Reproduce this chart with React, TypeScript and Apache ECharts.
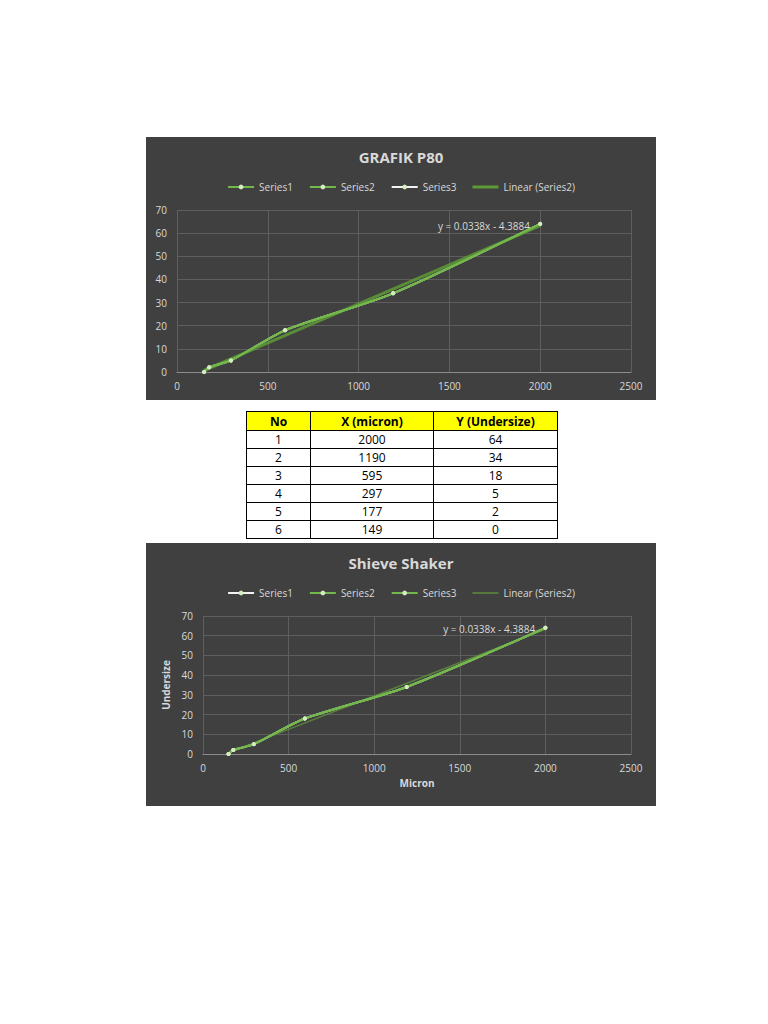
import React, { useEffect, useRef } from 'react';
import * as echarts from 'echarts';

const rowNo = [1, 2, 3, 4, 5, 6];
const micron = [2000, 1190, 595, 297, 177, 149];
const undersize = [64, 34, 18, 5, 2, 0];
const seriesNames = ['Series1', 'Series2', 'Series3'];
const trendName = 'Linear (Series2)';
const trendSlope = 0.0338;
const trendIntercept = -4.3884;
const trendLabel = 'y = 0.0338x - 4.3884';
const xTicks = { min: 0, max: 2500, interval: 500 };
const yTicks = { min: 0, max: 70, interval: 10 };

const FONT = '"Open Sans", "Noto Sans", sans-serif';
const BG = '#404040';
const GREEN = '#72b84a';
const WHITE = '#f2f2f2';
const TEXT = '#d9d9d9';

interface ChartProps {
  title: string;
  seriesColors: string[];
  trendColor: string;
  trendWidth: number;
  grid: { left: number; right: number; top: number; bottom: number };
  xName?: string;
  yName?: string;
}

function buildOption(p: ChartProps): echarts.EChartsOption {
  const points = micron.map((x, i) => [x, undersize[i]]);
  const xs = [Math.min(...micron), Math.max(...micron)];
  const trend = xs.map(x => [x, trendSlope * x + trendIntercept]);

  const series: any[] = seriesNames.map((name, i) => ({
    name,
    type: 'line',
    data: points,
    smooth: 0.25,
    symbol: 'circle',
    symbolSize: 4,
    showSymbol: true,
    lineStyle: { color: p.seriesColors[i], width: 2 },
    itemStyle: { color: '#d4ecc0', borderWidth: 0 },
    // green drawn over white, like the picture
    z: p.seriesColors[i] === WHITE ? 2 : 4,
    silent: true,
  }));

  series.push({
    name: trendName,
    type: 'line',
    data: trend.map((d, i) =>
      i === trend.length - 1
        ? {
            value: d,
            label: {
              show: true,
              position: 'left',
              distance: 10,
              formatter: trendLabel,
              color: TEXT,
              fontSize: 10,
              fontFamily: FONT,
            },
          }
        : d,
    ),
    symbol: 'circle',
    symbolSize: 0.5,
    showSymbol: true,
    lineStyle: { color: p.trendColor, width: p.trendWidth, opacity: 0.85 },
    itemStyle: { color: p.trendColor },
    z: 3,
    silent: true,
  });

  return {
    animation: false,
    backgroundColor: BG,
    textStyle: { fontFamily: FONT },
    title: {
      text: p.title,
      left: 'center',
      top: 7,
      textStyle: { color: TEXT, fontSize: 15, fontWeight: 'bold', fontFamily: FONT },
    },
    legend: {
      top: 40,
      left: 'center',
      itemWidth: 26,
      itemHeight: 6,
      itemGap: 16,
      textStyle: { color: TEXT, fontSize: 10, fontFamily: FONT },
      data: [
        ...seriesNames,
        {
          name: trendName,
          icon: 'path://M0,0H26V' + Math.max(1, p.trendWidth) + 'H0Z',
          itemStyle: { color: p.trendColor },
        },
      ],
    },
    grid: { ...p.grid, containLabel: false },
    xAxis: {
      type: 'value',
      ...xTicks,
      name: p.xName,
      nameLocation: 'middle',
      nameGap: 23,
      nameTextStyle: { color: TEXT, fontSize: 10, fontWeight: 'bold', fontFamily: FONT },
      axisLine: { show: true, lineStyle: { color: '#8c8c8c' } },
      axisTick: { show: false },
      axisLabel: { color: TEXT, fontSize: 10, margin: 9, formatter: (v: number) => String(v) },
      splitLine: { show: true, lineStyle: { color: '#5e5e5e' } },
    },
    yAxis: {
      type: 'value',
      ...yTicks,
      name: p.yName,
      nameLocation: 'middle',
      nameGap: 24,
      nameTextStyle: { color: TEXT, fontSize: 10, fontWeight: 'bold', fontFamily: FONT },
      axisLine: { show: false },
      axisTick: { show: false },
      axisLabel: { color: TEXT, fontSize: 10, margin: 10 },
      splitLine: { show: true, lineStyle: { color: '#5e5e5e' } },
    },
    series,
  };
}

function Chart(props: ChartProps & { left: number; top: number }) {
  const ref = useRef<HTMLDivElement | null>(null);

  useEffect(() => {
    if (!ref.current) return undefined;
    const chart = echarts.init(ref.current, undefined, { renderer: 'svg' });
    chart.setOption(buildOption(props));
    return () => {
      chart.dispose();
    };
  }, []);

  return (
    <div
      ref={ref}
      style={{ position: 'absolute', left: props.left, top: props.top, width: 510, height: 263 }}
    />
  );
}

const cell: React.CSSProperties = {
  border: '1px solid #000',
  textAlign: 'center',
  height: 17,
  padding: 0,
  fontSize: 12,
  lineHeight: '17px',
};

export default function App() {
  return (
    <div
      style={{
        position: 'absolute',
        left: 0,
        top: 0,
        width: 768,
        height: 1024,
        background: '#fff',
        fontFamily: FONT,
      }}
    >
      <Chart
        left={146}
        top={137}
        title="GRAFIK P80"
        seriesColors={[GREEN, GREEN, WHITE]}
        trendColor="#5e9a36"
        trendWidth={3}
        grid={{ left: 31, right: 25, top: 73, bottom: 28 }}
      />
      <table
        style={{
          position: 'absolute',
          left: 246,
          top: 411,
          width: 312,
          borderCollapse: 'collapse',
          color: '#000',
        }}
      >
        <thead>
          <tr style={{ background: '#ffff00' }}>
            <th style={{ ...cell, width: 63, height: 18 }}>No</th>
            <th style={{ ...cell, width: 122, height: 18 }}>X (micron)</th>
            <th style={{ ...cell, width: 123, height: 18 }}>Y (Undersize)</th>
          </tr>
        </thead>
        <tbody>
          {rowNo.map((n, i) => (
            <tr key={n}>
              <td style={cell}>{n}</td>
              <td style={cell}>{micron[i]}</td>
              <td style={cell}>{undersize[i]}</td>
            </tr>
          ))}
        </tbody>
      </table>
      <Chart
        left={146}
        top={543}
        title="Shieve Shaker"
        seriesColors={[WHITE, GREEN, GREEN]}
        trendColor="#5e8a3e"
        trendWidth={1.5}
        grid={{ left: 57, right: 25, top: 73, bottom: 52 }}
        xName="Micron"
        yName="Undersize"
      />
    </div>
  );
}
